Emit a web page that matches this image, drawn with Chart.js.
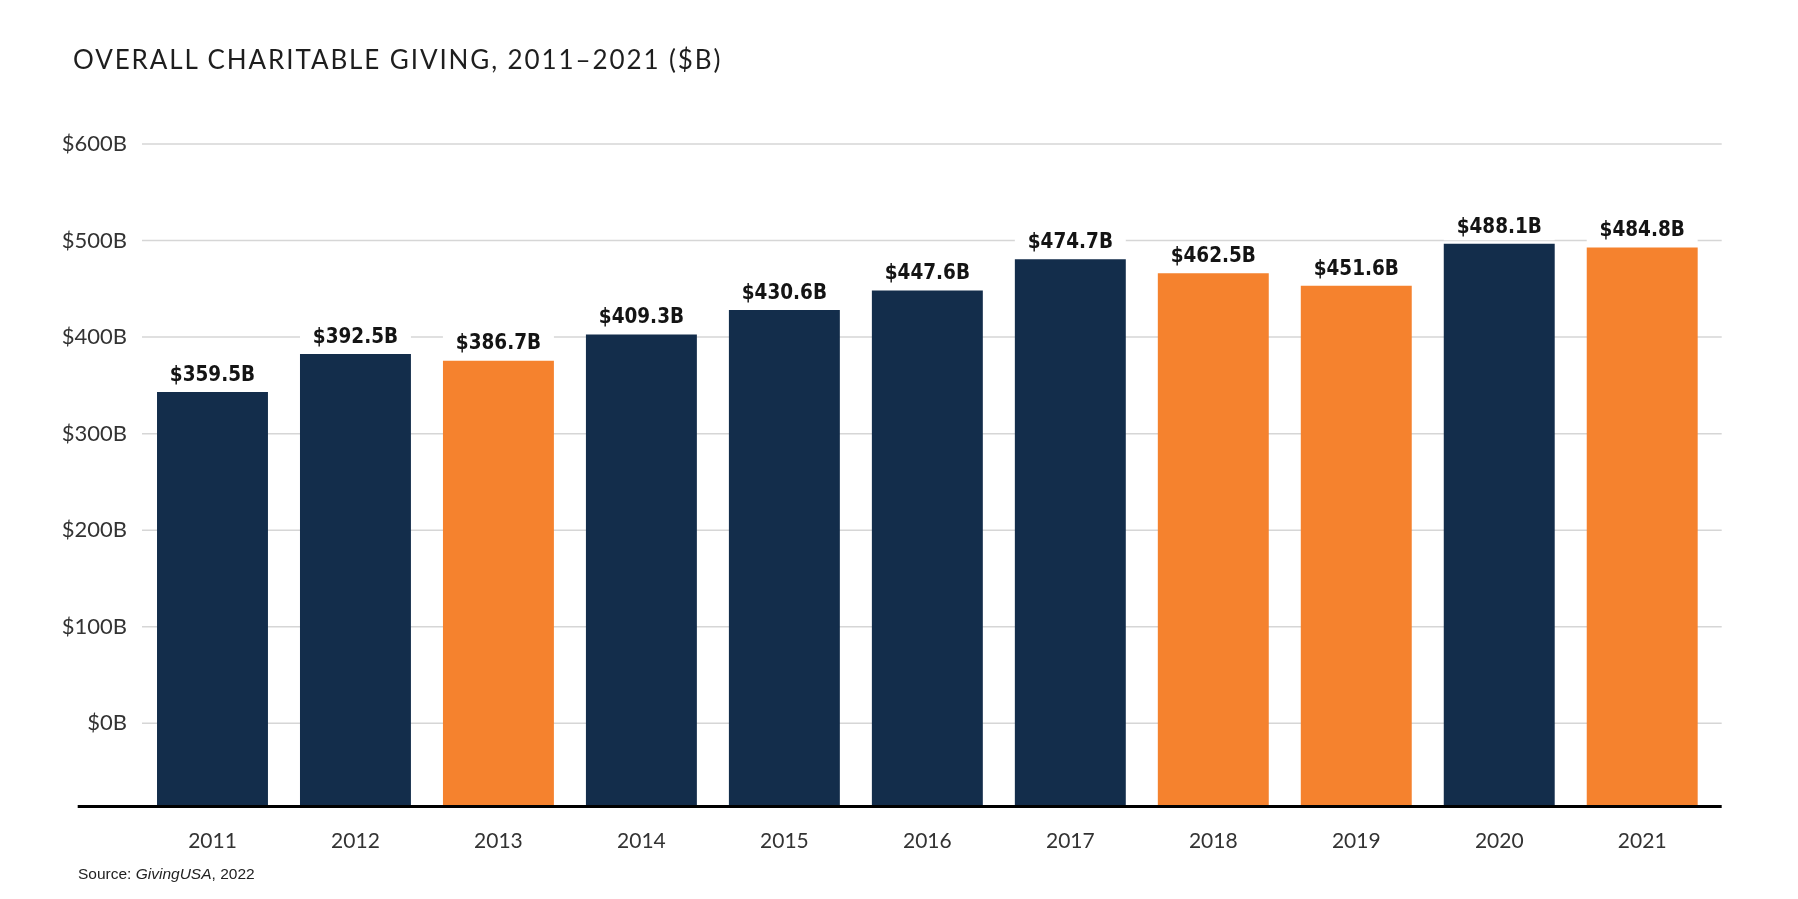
<!DOCTYPE html>
<html><head><meta charset="utf-8">
<script src="https://cdn.jsdelivr.net/npm/chart.js@4"></script>
<style>
html,body{margin:0;padding:0;background:#fff;width:1798px;height:899px;overflow:hidden;}
body{position:relative;}
#title{position:absolute;left:73px;top:46px;font:26px Lato, sans-serif;line-height:26px;letter-spacing:1.9px;color:#1e1e1e;white-space:nowrap;z-index:2;}
#source{position:absolute;left:78px;top:866px;font:15.5px "Liberation Sans", Arial, sans-serif;line-height:16px;color:#222;white-space:nowrap;z-index:2;}
canvas{position:absolute;left:0;top:0;}
</style></head><body>
<div id="title"></div>
<canvas id="c" width="1798" height="899"></canvas>
<div id="source"></div>
<script>
const titleText = 'OVERALL CHARITABLE GIVING, 2011–2021 ($B)';
const sourceHTML = 'Source: <i>GivingUSA</i>, 2022';
const years = ['2011','2012','2013','2014','2015','2016','2017','2018','2019','2020','2021'];
const giving = [359.5, 392.5, 386.7, 409.3, 430.6, 447.6, 474.7, 462.5, 451.6, 488.1, 484.8];
const highlighted = [false, false, true, false, false, false, false, true, true, false, true];
const yTicks = [0, 100, 200, 300, 400, 500, 600];

const NAVY = '#132d4b', ORANGE = '#f5822e';
document.getElementById('title').textContent = titleText;
document.getElementById('source').innerHTML = sourceHTML;

const fmtVal = v => '$' + v.toFixed(1) + 'B';
const fmtTick = v => '$' + v + 'B';

const decor = {
  id: 'decor',
  beforeDatasetsDraw(chart) {
    const ctx = chart.ctx, ys = chart.scales.y, ca = chart.chartArea;
    ctx.save();
    ctx.strokeStyle = '#d6d6d6';
    ctx.lineWidth = 1.5;
    ys.ticks.forEach(t => {
      const py = ys.getPixelForValue(t.value);
      ctx.beginPath();
      ctx.moveTo(ca.left + 1, py);
      ctx.lineTo(ca.right + 8, py);
      ctx.stroke();
    });
    ctx.restore();
  },
  afterDatasetsDraw(chart) {
    const ctx = chart.ctx, ca = chart.chartArea;
    const meta = chart.getDatasetMeta(0);
    ctx.save();
    meta.data.forEach((bar, i) => {
      const cy = bar.y - 16.5;
      ctx.fillStyle = '#fff';
      ctx.fillRect(bar.x - bar.width / 2, cy - 13, bar.width, 26);
      ctx.fillStyle = '#141414';
      ctx.font = 'bold 20.5px "DejaVu Sans Condensed", "DejaVu Sans", sans-serif';
      ctx.textAlign = 'center';
      ctx.textBaseline = 'middle';
      ctx.fillText(fmtVal(giving[i]), bar.x, cy);
    });
    const by = chart.scales.yb.getPixelForValue(0);
    ctx.strokeStyle = '#000';
    ctx.lineWidth = 3;
    ctx.beginPath();
    ctx.moveTo(77.7, by);
    ctx.lineTo(ca.right + 8, by);
    ctx.stroke();
    ctx.restore();
  }
};

new Chart(document.getElementById('c'), {
  type: 'bar',
  data: {
    labels: years,
    datasets: [{
      data: giving,
      yAxisID: 'yb',
      backgroundColor: highlighted.map(h => h ? ORANGE : NAVY),
      borderWidth: 0,
      categoryPercentage: 1,
      barPercentage: 0.776
    }]
  },
  options: {
    responsive: false,
    animation: false,
    devicePixelRatio: 1,
    layout: { padding: { top: 144, right: 84.3, left: 0, bottom: 0 } },
    plugins: { legend: { display: false }, tooltip: { enabled: false }, title: { display: false } },
    scales: {
      x: {
        grid: { display: false, drawTicks: false },
        border: { display: false },
        ticks: { color: '#333', font: { family: 'Lato', size: 21 }, padding: 22.4, maxRotation: 0 },
        afterFit: s => { s.height = 92.5; }
      },
      y: {
        position: 'left',
        min: -86.2,
        max: 600,
        grid: { display: false, drawTicks: false },
        border: { display: false },
        afterBuildTicks: s => { s.ticks = yTicks.map(v => ({ value: v })); },
        ticks: { color: '#333', font: { family: 'Lato', size: 22 }, padding: 14, callback: v => fmtTick(v) },
        afterFit: s => { s.width = 141; }
      },
      yb: {
        display: false,
        position: 'left',
        min: 0,
        max: 574.6
      }
    }
  },
  plugins: [decor]
});
</script>
</body></html>
